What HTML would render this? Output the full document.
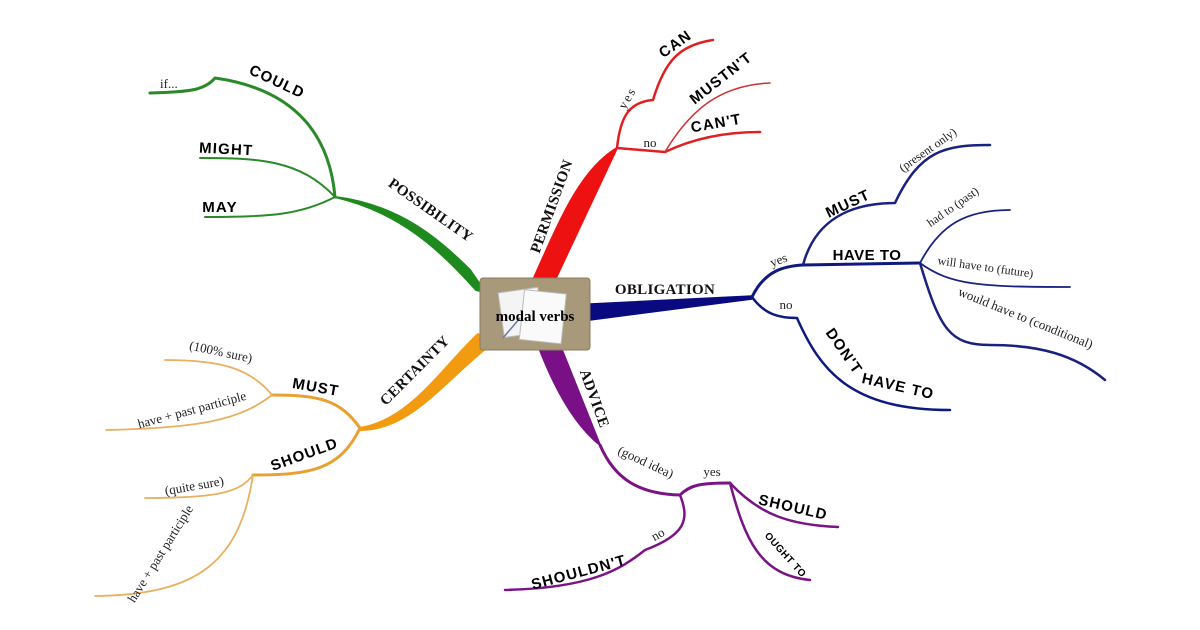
<!DOCTYPE html>
<html><head><meta charset="utf-8"><style>
html,body{margin:0;padding:0;background:#fff;}
svg{display:block;}
.b{font-family:"Liberation Sans",sans-serif;font-weight:bold;font-size:15px;letter-spacing:1.2px;fill:#000;}
.s{font-family:"Liberation Serif",serif;font-size:13px;fill:#222;}
.c{font-family:"Liberation Serif",serif;font-size:15px;font-weight:bold;fill:#111;letter-spacing:0.3px;}
</style></head><body>
<svg width="1200" height="630" viewBox="0 0 1200 630" xmlns="http://www.w3.org/2000/svg">
<g fill="none" stroke-linecap="round" stroke-linejoin="round">
<!-- GREEN -->
<path d="M335,197 C400,205 440,240 470,270 L485,292 L476,290 C440,250 400,212 335,197 Z" fill="#1e8a1e" stroke="#1e8a1e" stroke-width="2"/>
<path d="M335,197 C330,140 300,90 215,78 C205,90 190,92 150,93" stroke="#2a8a2a" stroke-width="3"/>
<path d="M335,197 C300,160 260,158 200,158" stroke="#2a8a2a" stroke-width="2"/>
<path d="M335,197 C300,215 270,217 205,217" stroke="#2a8a2a" stroke-width="2"/>
<!-- RED -->
<path d="M533,280 C560,220 580,170 617,148 L555,280 Z" fill="#ee1111" stroke="#ee1111" stroke-width="2"/>
<path d="M617,148 L665,152 C690,140 720,132 760,132" stroke="#e02020" stroke-width="2.5"/>
<path d="M665,152 C690,110 720,85 770,83" stroke="#d03030" stroke-width="1.5"/>
<path d="M617,148 C620,120 627,102 653,100 C665,60 680,45 713,40" stroke="#e02020" stroke-width="2.5"/>
<!-- BLUE -->
<path d="M590,304 L752,296 L752,299 L590,320 Z" fill="#0a0a80" stroke="#0a0a80" stroke-width="1.5"/>
<path d="M752,297 C765,270 785,266 803,265 L920,263" stroke="#0d1a80" stroke-width="3"/>
<path d="M803,265 C815,220 850,203 895,203 C920,150 945,145 990,145" stroke="#1a2280" stroke-width="2.5"/>
<path d="M920,263 C940,225 965,210 1010,210" stroke="#1a2280" stroke-width="1.8"/>
<path d="M920,263 C950,285 980,287 1070,287" stroke="#1a2280" stroke-width="1.8"/>
<path d="M920,263 C940,330 950,345 990,345 C1040,345 1075,355 1105,380" stroke="#1a2280" stroke-width="2.5"/>
<path d="M752,297 C765,315 780,318 797,318 C820,370 850,410 950,410" stroke="#0d1a80" stroke-width="2.5"/>
<!-- PURPLE -->
<path d="M538,345 C555,390 575,425 600,445 L560,345 Z" fill="#7a1085" stroke="#7a1085" stroke-width="2"/>
<path d="M600,445 C615,480 640,494 680,495 C690,485 700,483 730,483" stroke="#7a1485" stroke-width="3"/>
<path d="M730,483 C760,515 790,525 838,527" stroke="#7a1485" stroke-width="2.5"/>
<path d="M730,483 C745,540 760,575 810,580" stroke="#7a1485" stroke-width="2.5"/>
<path d="M680,495 C690,520 685,535 645,550 C620,570 590,588 505,590" stroke="#7a1485" stroke-width="2.5"/>
<!-- ORANGE -->
<path d="M360,428 C410,420 440,370 478,334 L490,345 C440,385 410,430 360,430 Z" fill="#f29a10" stroke="#f29a10" stroke-width="2"/>
<path d="M360,428 C340,400 320,395 272,395" stroke="#e8a030" stroke-width="3"/>
<path d="M272,395 C250,368 220,360 165,360" stroke="#e8b060" stroke-width="1.8"/>
<path d="M272,395 C240,420 200,428 106,430" stroke="#e8b060" stroke-width="1.8"/>
<path d="M360,428 C340,470 310,475 253,475" stroke="#e8a030" stroke-width="3"/>
<path d="M253,475 C240,492 220,498 145,498" stroke="#e8b060" stroke-width="1.8"/>
<path d="M253,475 C240,560 200,595 95,596" stroke="#e8b060" stroke-width="1.8"/>
</g>
<!-- center box -->
<rect x="480" y="278" width="110" height="72" rx="3" fill="#a8997b" stroke="#8a7c60" stroke-width="1"/>
<g transform="rotate(-8 520 305)"><rect x="500" y="290" width="40" height="45" fill="#f4f4f4" stroke="#bbb"/></g>
<g transform="rotate(6 545 315)"><rect x="522" y="292" width="42" height="50" fill="#fafafa" stroke="#bbb"/></g>
<line x1="503" y1="338" x2="520" y2="318" stroke="#6677aa" stroke-width="1.5"/>
<text x="535" y="321" text-anchor="middle" style="font-family:'Liberation Serif',serif;font-weight:bold;font-size:15px">modal verbs</text>
<!-- green labels -->
<text class="c" transform="translate(428,214) rotate(35)" text-anchor="middle">POSSIBILITY</text>
<text class="b" transform="translate(275,86) rotate(25)" text-anchor="middle">COULD</text>
<text class="b" x="226" y="154" text-anchor="middle" transform="rotate(3 226 154)">MIGHT</text>
<text class="b" x="220" y="212" text-anchor="middle">MAY</text>
<text class="s" x="160" y="88">if...</text>
<!-- red labels -->
<text class="c" transform="translate(556,208) rotate(-70)" text-anchor="middle">PERMISSION</text>
<text class="s" transform="translate(631,100) rotate(-60)" text-anchor="middle" letter-spacing="2">yes</text>
<text class="s" x="650" y="147" text-anchor="middle">no</text>
<text class="b" transform="translate(678,48) rotate(-35)" text-anchor="middle">CAN</text>
<text class="b" transform="translate(724,82) rotate(-38)" text-anchor="middle">MUSTN'T</text>
<text class="b" transform="translate(717,128) rotate(-10)" text-anchor="middle">CAN'T</text>
<!-- blue labels -->
<text class="c" x="665" y="294" text-anchor="middle">OBLIGATION</text>
<text class="s" transform="translate(780,264) rotate(-20)" text-anchor="middle">yes</text>
<text class="s" x="786" y="309" text-anchor="middle">no</text>
<text class="b" transform="translate(850,208) rotate(-25)" text-anchor="middle">MUST</text>
<text class="b" x="867" y="260" text-anchor="middle" style="letter-spacing:0.5px">HAVE TO</text>
<text class="s" transform="translate(930,153) rotate(-35)" text-anchor="middle" style="font-size:12px">(present only)</text>
<text class="s" transform="translate(955,210) rotate(-35)" text-anchor="middle" style="font-size:12px">had to (past)</text>
<text class="s" transform="translate(985,271) rotate(8)" text-anchor="middle" style="font-size:12px">will have to (future)</text>
<text class="s" transform="translate(1024,322) rotate(22)" text-anchor="middle">would have to (conditional)</text>
<text class="b" transform="translate(840,354) rotate(55)" text-anchor="middle">DON'T</text>
<text class="b" transform="translate(897,391) rotate(13)" text-anchor="middle">HAVE TO</text>
<!-- purple labels -->
<text class="c" transform="translate(590,400) rotate(70)" text-anchor="middle">ADVICE</text>
<text class="s" transform="translate(644,466) rotate(25)" text-anchor="middle">(good idea)</text>
<text class="s" x="712" y="476" text-anchor="middle">yes</text>
<text class="b" transform="translate(792,512) rotate(13)" text-anchor="middle">SHOULD</text>
<text class="b" transform="translate(783,557) rotate(48)" text-anchor="middle" style="font-size:10px;letter-spacing:0.5px">OUGHT TO</text>
<text class="s" transform="translate(660,538) rotate(-30)" text-anchor="middle">no</text>
<text class="b" transform="translate(580,577) rotate(-15)" text-anchor="middle">SHOULDN'T</text>
<!-- orange labels -->
<text class="c" transform="translate(418,374) rotate(-45)" text-anchor="middle">CERTAINTY</text>
<text class="b" transform="translate(315,392) rotate(10)" text-anchor="middle">MUST</text>
<text class="b" transform="translate(306,459) rotate(-20)" text-anchor="middle">SHOULD</text>
<text class="s" transform="translate(220,356) rotate(12)" text-anchor="middle">(100% sure)</text>
<text class="s" transform="translate(193,414) rotate(-15)" text-anchor="middle">have + past participle</text>
<text class="s" transform="translate(195,490) rotate(-10)" text-anchor="middle">(quite sure)</text>
<text class="s" transform="translate(164,556) rotate(-58)" text-anchor="middle">have + past participle</text>
</svg>
</body></html>
